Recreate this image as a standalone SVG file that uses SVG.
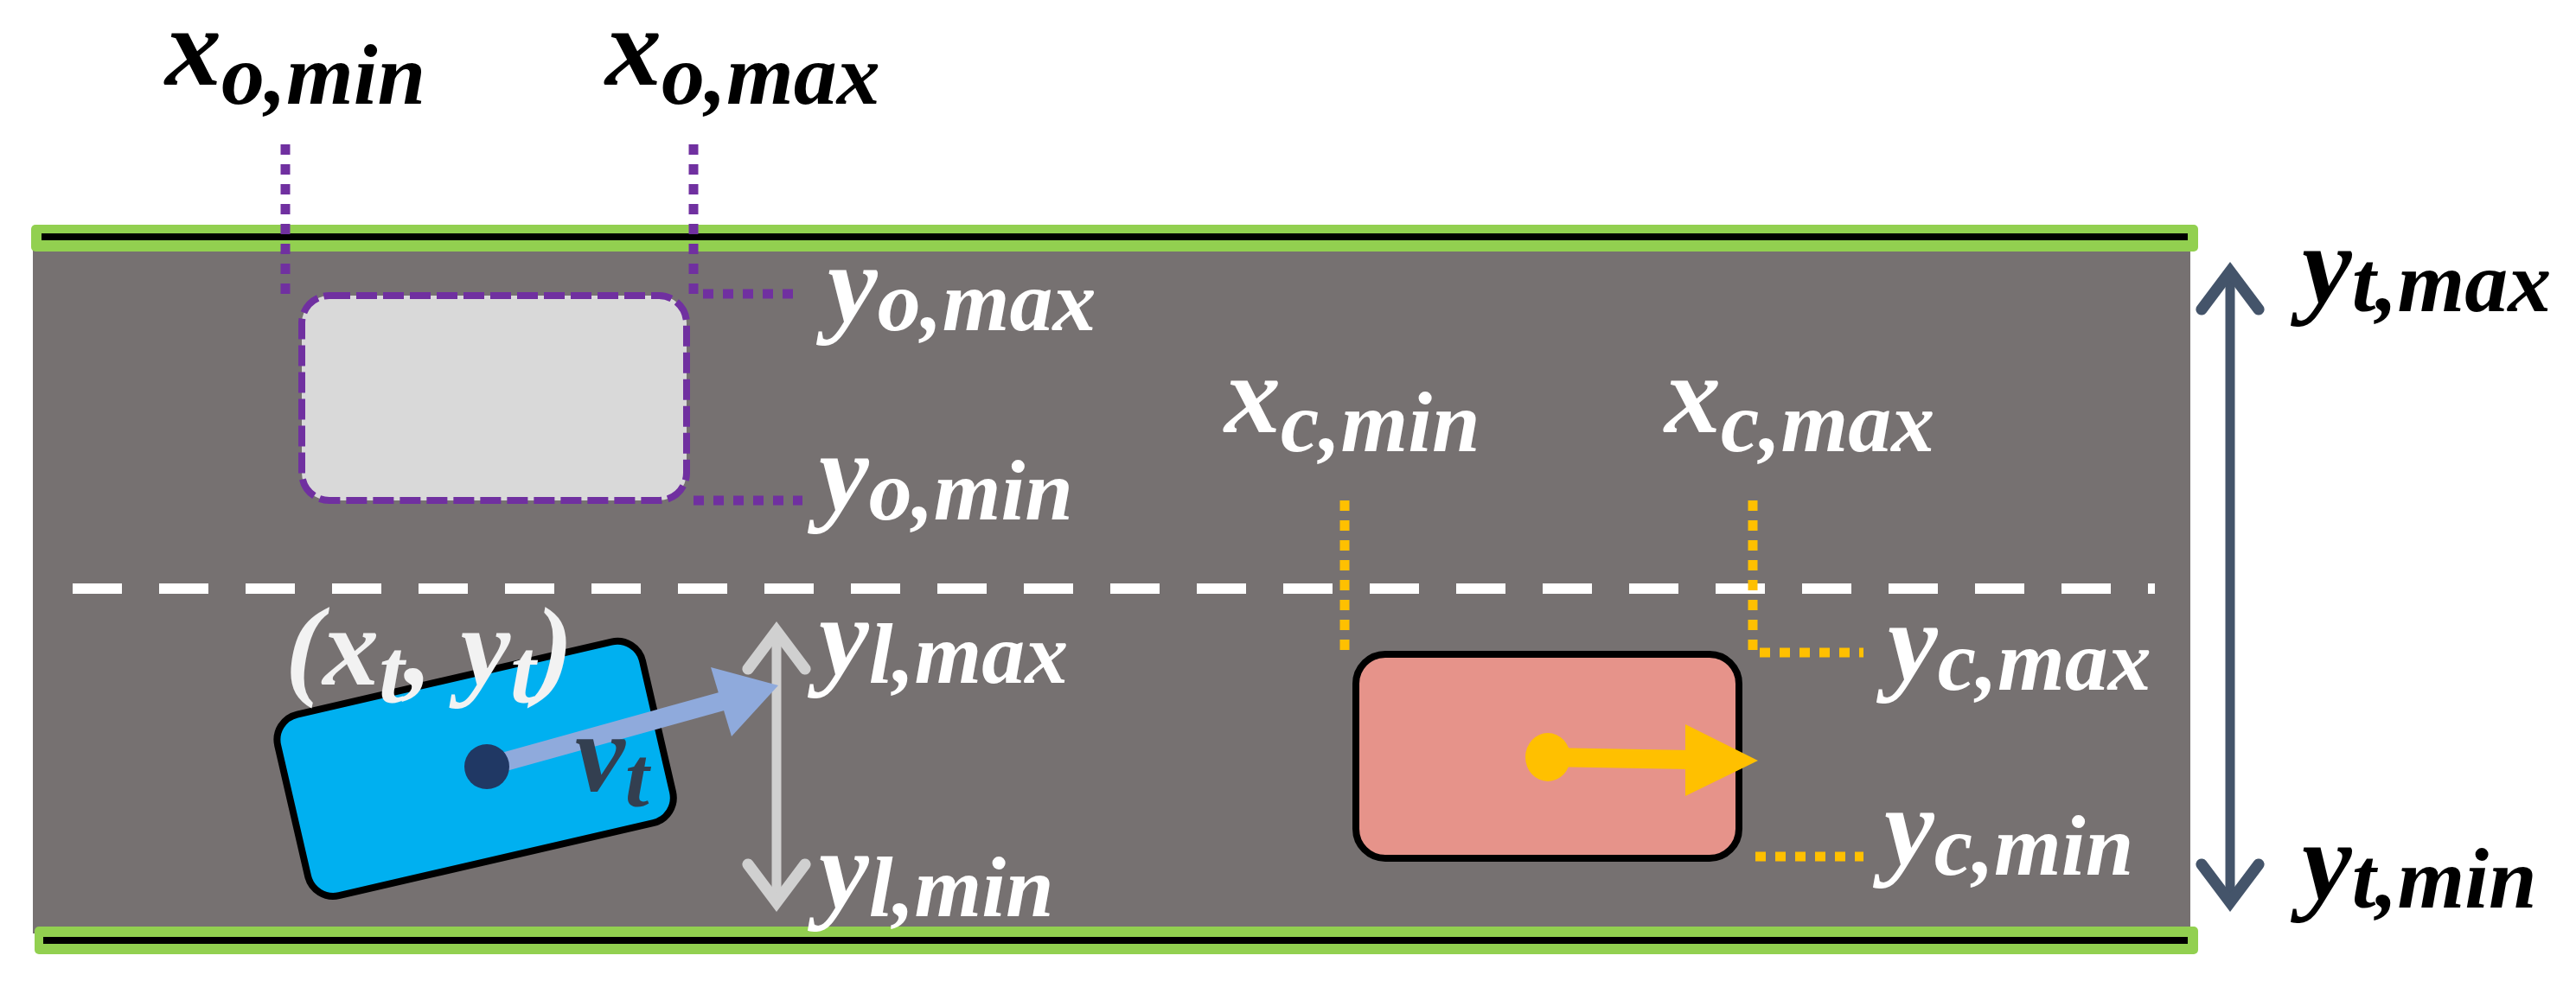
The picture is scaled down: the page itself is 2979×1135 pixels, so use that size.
<svg xmlns="http://www.w3.org/2000/svg" width="2979" height="1135" viewBox="0 0 2979 1135">
<style>
text{font-family:"Liberation Serif",serif;font-style:italic;font-weight:bold;font-size:130px}
.s{font-size:100px}
.w{fill:#fff}
.k{fill:#000}
.pd{stroke:#7030a0;stroke-width:11;stroke-dasharray:12 11;fill:none}
.yd{stroke:#ffc000;stroke-width:11;stroke-dasharray:12 11;fill:none}
</style>
<defs>
<marker id="gh" markerWidth="8" markerHeight="8" refX="5" refY="4" orient="auto-start-reverse" markerUnits="strokeWidth"><path d="M1,1 L5,4 L1,7" fill="none" stroke="#d0d0d0" stroke-width="1.2" stroke-linecap="round"/></marker>
<marker id="nh" markerWidth="8" markerHeight="8" refX="5" refY="4" orient="auto-start-reverse" markerUnits="strokeWidth"><path d="M1,1 L5,4 L1,7" fill="none" stroke="#44546a" stroke-width="1.2" stroke-linecap="round"/></marker>
</defs>
<g id="road">
<rect x="38" y="280" width="2495" height="800" fill="#767171"/>
<rect x="36" y="260" width="2506" height="31" rx="5" fill="#92d050"/>
<line x1="48" y1="274" x2="2530" y2="274" stroke="#000" stroke-width="8"/>
<rect x="40" y="1072" width="2502" height="32" rx="5" fill="#92d050"/>
<line x1="50" y1="1088" x2="2530" y2="1088" stroke="#000" stroke-width="8"/>
</g>
<g id="center-line"><line x1="84" y1="681" x2="2492" y2="681" stroke="#fff" stroke-width="12" stroke-dasharray="57 43"/></g>
<g id="obstacle">
<rect x="349" y="342" width="445" height="237" rx="32" fill="#d9d9d9" stroke="#7030a0" stroke-width="8" stroke-dasharray="24 7"/>
</g>
<g id="connectors">
<path class="pd" d="M330 167 V340 M802 167 V340 H928 M802 579 H928"/>
<path class="yd" d="M1555 579 V753 M2027 579 V755 H2155 M2030 991 H2155"/>
<line x1="898" y1="730" x2="898" y2="1044" stroke="#d0d0d0" stroke-width="11" marker-start="url(#gh)" marker-end="url(#gh)"/>
<line x1="2579" y1="314" x2="2579" y2="1044" stroke="#44546a" stroke-width="11" marker-start="url(#nh)" marker-end="url(#nh)"/>
</g>
<g id="ego">
<rect x="333" y="782" width="433" height="215" rx="30" transform="rotate(-13 549 889)" fill="#00b0f0" stroke="#000" stroke-width="8"/>
<line x1="563" y1="887" x2="840" y2="810" stroke="#8faadc" stroke-width="22"/>
<polygon points="822,772 900,793 846,852" fill="#8faadc"/>
<circle cx="563" cy="887" r="26" fill="#203864"/>
</g>
<g id="car">
<rect x="1568" y="757" width="443" height="236" rx="34" fill="#e6938a" stroke="#000" stroke-width="8"/>
<line x1="1788" y1="876" x2="1955" y2="879" stroke="#ffc000" stroke-width="22"/>
<polygon points="1949,838 2033,880 1949,921" fill="#ffc000"/>
<ellipse cx="1790" cy="876" rx="26" ry="28" fill="#ffc000"/>
</g>
<g id="labels">
<text x="191" y="98" class="k">x<tspan class="s" dy="22">o,min</tspan></text>
<text x="700" y="98" class="k">x<tspan class="s" dy="22">o,max</tspan></text>
<text x="957" y="372" class="w">y<tspan class="s" dy="10">o,max</tspan></text>
<text x="947" y="590" class="w">y<tspan class="s" dy="11">o,min</tspan></text>
<text x="1416" y="500" class="w">x<tspan class="s" dy="22">c,min</tspan></text>
<text x="1925" y="500" class="w">x<tspan class="s" dy="22">c,max</tspan></text>
<text x="2183" y="786" class="w">y<tspan class="s" dy="12">c,max</tspan></text>
<text x="2179" y="1000" class="w">y<tspan class="s" dy="12">c,min</tspan></text>
<text x="947" y="780" class="w">y<tspan class="s" dy="10">l,max</tspan></text>
<text x="947" y="1050" class="w">y<tspan class="s" dy="10">l,min</tspan></text>
<text x="2662" y="350" class="k">y<tspan class="s" dy="10">t,max</tspan></text>
<text x="2662" y="1040" class="k">y<tspan class="s" dy="10">t,min</tspan></text>
<text x="330" y="792" fill="#f2f2f2" font-size="140">(x<tspan font-size="105" dy="20">t</tspan><tspan dy="-20">, y</tspan><tspan font-size="105" dy="20">t</tspan><tspan dy="-20">)</tspan></text>
<text x="665" y="915" fill="#333f50" font-size="130">v<tspan class="s" dy="18">t</tspan></text>
</g>
</svg>
